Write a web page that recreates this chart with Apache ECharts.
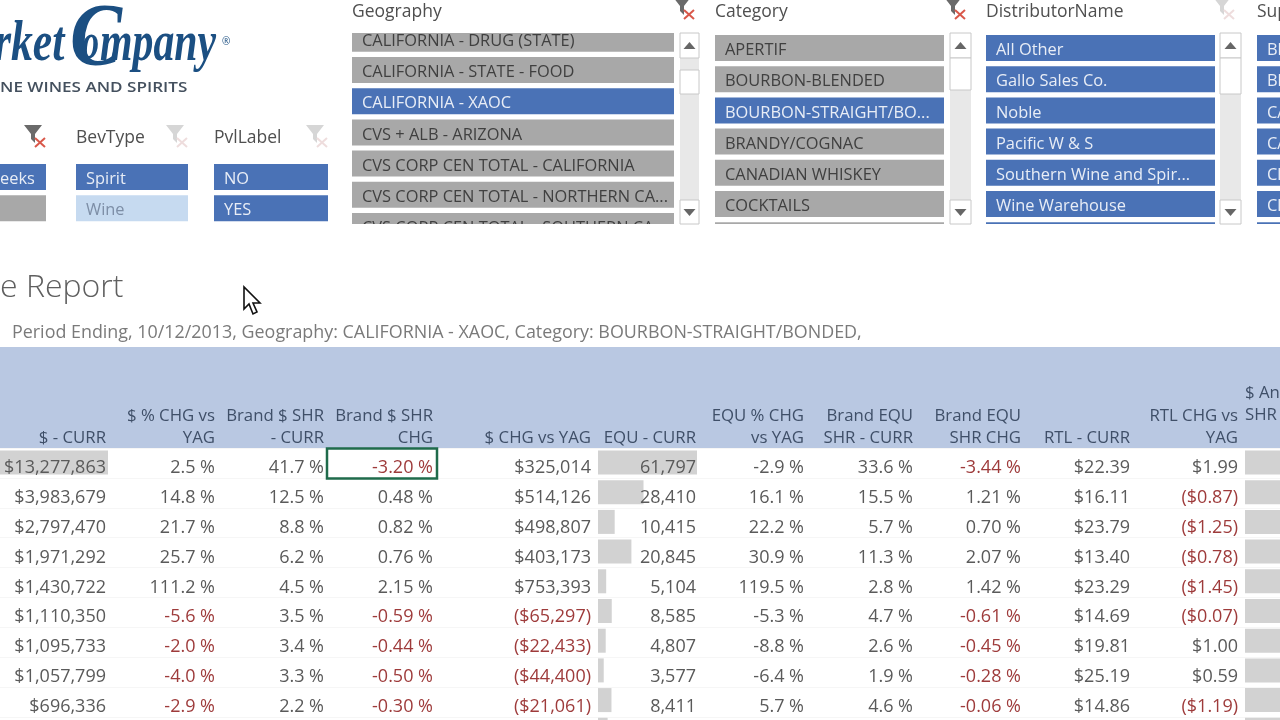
<!DOCTYPE html>
<html>
<head>
<meta charset="utf-8">
<title>Sales Report</title>
<script src="https://cdn.jsdelivr.net/npm/echarts@6/dist/echarts.min.js"></script>
<style>
  html, body { margin: 0; padding: 0; background: #fff; }
  #main { width: 1280px; height: 720px; }
</style>
</head>
<body>
<div id="main"></div>
<script>
// table values
const dollarCurr = [13277863, 3983679, 2797470, 1971292, 1430722, 1110350, 1095733, 1057799, 696336];
const dollarPctChg = [2.5, 14.8, 21.7, 25.7, 111.2, -5.6, -2.0, -4.0, -2.9];
const brandDollarShr = [41.7, 12.5, 8.8, 6.2, 4.5, 3.5, 3.4, 3.3, 2.2];
const brandDollarShrChg = [-3.20, 0.48, 0.82, 0.76, 2.15, -0.59, -0.44, -0.50, -0.30];
const dollarChg = [325014, 514126, 498807, 403173, 753393, -65297, -22433, -44400, -21061];
const equCurr = [61797, 28410, 10415, 20845, 5104, 8585, 4807, 3577, 8411];
const equPctChg = [-2.9, 16.1, 22.2, 30.9, 119.5, -5.3, -8.8, -6.4, 5.7];
const brandEquShr = [33.6, 15.5, 5.7, 11.3, 2.8, 4.7, 2.6, 1.9, 4.6];
const brandEquShrChg = [-3.44, 1.21, 0.70, 2.07, 1.42, -0.61, -0.45, -0.28, -0.06];
const rtlCurr = [22.39, 16.11, 23.79, 13.40, 23.29, 14.69, 19.81, 25.19, 14.86];
const rtlChg = [1.99, -0.87, -1.25, -0.78, -1.45, -0.07, 1.00, 0.59, -1.19];

// data bars: the tenth row only just shows at the bottom edge
const dollarBars = [13277863, 3983679, 2797470, 1971292, 1430722, 1110350, 1095733, 1057799, 696336, 650000];
const equBars = [61797, 28410, 10415, 20845, 5104, 8585, 4807, 3577, 8411, 6000];
const annualShrBars = [92, 88, 90, 85, 87, 84, 86, 83, 85, 80];

// slicers
const geoItems = ["CALIFORNIA - DRUG (STATE)", "CALIFORNIA - STATE - FOOD", "CALIFORNIA - XAOC", "CVS + ALB - ARIZONA", "CVS CORP CEN TOTAL - CALIFORNIA", "CVS CORP CEN TOTAL - NORTHERN CA...", "CVS CORP CEN TOTAL - SOUTHERN CA..."];
const geoState = ["off", "off", "on", "off", "off", "off", "off"];
const categoryItems = ["APERTIF", "BOURBON-BLENDED", "BOURBON-STRAIGHT/BO...", "BRANDY/COGNAC", "CANADIAN WHISKEY", "COCKTAILS", ""];
const categoryState = ["off", "off", "on", "off", "off", "off", "off"];
const distributorItems = ["All Other", "Gallo Sales Co.", "Noble", "Pacific W & S", "Southern Wine and Spir...", "Wine Warehouse", ""];
const distributorState = ["on", "on", "on", "on", "on", "on", "on"];
const supplierItems = ["Bl", "Bl", "CA", "CA", "Cl", "Cl", ""];
const supplierState = ["on", "on", "on", "on", "on", "on", "on"];
const periodItems = ["eeks", ""];
const periodState = ["on", "off"];
const bevTypeItems = ["Spirit", "Wine"];
const bevTypeState = ["on", "dim"];
const pvlItems = ["NO", "YES"];
const pvlState = ["on", "on"];

const FONT = '"Open Sans", "Noto Sans", sans-serif';
const LOGO_FONT = '"Liberation Serif", serif';
const TEXT_GRAY = "#5a5a5a";
const RED = "#9e3b3b";
const HEAD = "#3f4f68";
const LOGO = "#1b4f82";

const ROW_H = 29.875;
const BAR_ROW_H = 29.7;
const TILE_H = 31.2;

const grids = [];
const xAxes = [];
const yAxes = [];
const series = [];

function pct1(v) { return v.toFixed(1) + " %"; }
function pct2(v) { return v.toFixed(2) + " %"; }
function money0(v) {
  const s = "$" + Math.abs(v).toLocaleString("en-US");
  return v < 0 ? "(" + s + ")" : s;
}
function money2(v) {
  const s = "$" + Math.abs(v).toFixed(2);
  return v < 0 ? "(" + s + ")" : s;
}
function num0(v) { return v.toLocaleString("en-US"); }

// one table column: the cells are the labels of its own category axis
function addTextColumn(right, header, values, fmt, redNegative) {
  const i = grids.length;
  grids.push({ outerBoundsMode: "none", left: right, width: 1, top: 453, height: ROW_H * values.length });
  xAxes.push({ type: "value", gridIndex: i, show: false });
  yAxes.push({
    type: "category",
    gridIndex: i,
    inverse: true,
    z: 5,
    data: values.map(fmt),
    name: header,
    nameLocation: "start",
    nameGap: 4,
    nameTextStyle: { align: "right", verticalAlign: "bottom", color: HEAD, fontFamily: FONT, fontSize: 16.8, lineHeight: 22 },
    axisLine: { show: false },
    axisTick: { show: false },
    axisLabel: {
      interval: 0,
      margin: 0,
      fontFamily: FONT,
      fontSize: 18,
      color: function (value, index) {
        return redNegative && values[index] < 0 ? RED : TEXT_GRAY;
      },
    },
  });
}

// grey data bars behind a column
function addDataBars(left, width, max, values) {
  const i = grids.length;
  grids.push({ outerBoundsMode: "none", left: left, width: width, top: 447.65, height: BAR_ROW_H * values.length });
  xAxes.push({ type: "value", gridIndex: i, show: false, min: 0, max: max });
  yAxes.push({ type: "category", gridIndex: i, inverse: true, show: false, data: values.map((v, n) => n) });
  series.push({
    type: "bar",
    xAxisIndex: i,
    yAxisIndex: i,
    barWidth: 24,
    silent: true,
    itemStyle: { color: "#d2d2d2" },
    data: values,
  });
}

const TILE_COLORS = {
  on: { fill: "#4a72b6", text: "#e8edf6" },
  off: { fill: "#a8a8a8", text: "#404040" },
  dim: { fill: "#c6daf0", text: "#7d8ea6" },
};

// a slicer is a bar chart of full-width tiles
function addSlicer(left, width, top, items, states) {
  const i = grids.length;
  grids.push({ outerBoundsMode: "none", left: left, width: width, top: top, height: TILE_H * items.length });
  xAxes.push({ type: "value", gridIndex: i, show: false, min: 0, max: 1 });
  yAxes.push({ type: "category", gridIndex: i, inverse: true, show: false, data: items });
  series.push({
    type: "bar",
    xAxisIndex: i,
    yAxisIndex: i,
    barWidth: 26,
    silent: true,
    label: { show: true, position: "insideLeft", distance: 10, offset: [0, 2.5], formatter: "{b}", fontFamily: FONT, fontSize: 16.4 },
    data: items.map((name, n) => ({
      value: 1,
      name: name,
      itemStyle: { color: TILE_COLORS[states[n]].fill },
      label: { color: TILE_COLORS[states[n]].text },
    })),
  });
}

// faint row lines across the table
grids.push({ outerBoundsMode: "none", left: 0, width: 1280, top: 448, height: ROW_H * 10 });
xAxes.push({ type: "value", gridIndex: 0, show: false });
yAxes.push({
  type: "category",
  gridIndex: 0,
  inverse: true,
  data: equBars.map((v, n) => n),
  axisLine: { show: false },
  axisTick: { show: false },
  axisLabel: { show: false },
  splitLine: { show: true, lineStyle: { color: "#f6f6f6", width: 1 } },
});

addDataBars(-60, 168, 13277863, dollarBars);
addDataBars(598, 99, 61797, equBars);
addDataBars(1245, 100, 100, annualShrBars);

addTextColumn(106, "$ - CURR", dollarCurr, money0, false);
addTextColumn(215, "$ % CHG vs\nYAG", dollarPctChg, pct1, true);
addTextColumn(324, "Brand $ SHR\n- CURR", brandDollarShr, pct1, false);
addTextColumn(433, "Brand $ SHR\nCHG", brandDollarShrChg, pct2, true);
addTextColumn(591, "$ CHG vs YAG", dollarChg, money0, true);
addTextColumn(696, "EQU - CURR", equCurr, num0, false);
addTextColumn(804, "EQU % CHG\nvs YAG", equPctChg, pct1, false);
addTextColumn(913, "Brand EQU\nSHR - CURR", brandEquShr, pct1, false);
addTextColumn(1021, "Brand EQU\nSHR CHG", brandEquShrChg, pct2, true);
addTextColumn(1130, "RTL - CURR", rtlCurr, money2, false);
addTextColumn(1238, "RTL CHG vs\nYAG", rtlChg, money2, true);

addSlicer(352, 322, 23.2, geoItems, geoState);
addSlicer(715, 229, 32.4, categoryItems, categoryState);
addSlicer(986, 229, 32.4, distributorItems, distributorState);
addSlicer(1257, 40, 32.4, supplierItems, supplierState);
addSlicer(-10, 56, 161.4, periodItems, periodState);
addSlicer(76, 112, 161.4, bevTypeItems, bevTypeState);
addSlicer(214, 114, 161.4, pvlItems, pvlState);

function text(x, y, str, size, color, extra) {
  return {
    type: "text",
    z: 12,
    silent: true,
    style: Object.assign({ x: x, y: y, text: str, fontSize: size, fontFamily: FONT, fill: color, verticalAlign: "middle" }, extra || {}),
  };
}

// logo letters are a tall script, so stretch a serif italic to the same shape
function logoText(x, y, str, size, sx, sy) {
  return {
    type: "text",
    z: 12,
    silent: true,
    x: x,
    y: y,
    scaleX: sx,
    scaleY: sy,
    style: { x: 0, y: 0, text: str, fontSize: size, fontFamily: LOGO_FONT, fontStyle: "italic", fontWeight: "bold", fill: LOGO, verticalAlign: "middle" },
  };
}

function rect(x, y, w, h, fill, z, stroke) {
  return {
    type: "rect",
    z: z,
    silent: true,
    shape: { x: x, y: y, width: w, height: h },
    style: { fill: fill, stroke: stroke || null, lineWidth: stroke ? 1 : 0 },
  };
}

function poly(points, fill, z) {
  return { type: "polygon", z: z, silent: true, shape: { points: points }, style: { fill: fill } };
}

function scrollbar(x, w, thumbTop, thumbH) {
  const cx = x + w / 2;
  return [
    rect(x, 33, w, 191, "#e8e8e8", 11),
    rect(x, 33, w, 25, "#fff", 11, "#c8c8c8"),
    rect(x, thumbTop, w, thumbH, "#fff", 11, "#c8c8c8"),
    rect(x, 200, w, 24, "#fff", 11, "#c8c8c8"),
    poly([[cx - 6, 49], [cx + 6, 49], [cx, 42]], "#666", 12),
    poly([[cx - 6, 209], [cx + 6, 209], [cx, 216]], "#666", 12),
  ];
}

function filterIcon(cx, top, active) {
  const c = active ? "#6a6a6a" : "#d6d6d6";
  const red = active ? "#d9584a" : "#eedddd";
  const xc = cx + 7;
  const yc = top + 17;
  const stroke = function (x1, y1, x2, y2) {
    return { type: "line", z: 12, silent: true, shape: { x1: x1, y1: y1, x2: x2, y2: y2 }, style: { stroke: red, lineWidth: 2 } };
  };
  return [
    poly([[cx - 9, top], [cx + 9, top], [cx + 2, top + 9], [cx + 2, top + 18], [cx - 2, top + 14], [cx - 2, top + 9]], c, 12),
    stroke(xc - 5, yc - 4, xc + 5, yc + 5),
    stroke(xc + 5, yc - 4, xc - 5, yc + 5),
  ];
}

const subtitle = text(0, 88, "NE WINES AND SPIRITS", 14, "#44505e", { fontWeight: 600 });
subtitle.scaleX = 1.22;

const graphics = [
  rect(0, 347, 1280, 102, "#b9c8e2", -10),
  // cut off the slicer lists where they scroll
  rect(345, 18, 335, 15, "#fff", 10),
  rect(345, 224, 935, 28, "#fff", 10),
  // logo
  logoText(-6, 45, "rket", 38, 1.15, 1.5),
  logoText(70, 41, "C", 78, 1, 1.15),
  logoText(82, 45, "o", 34, 1, 1.5),
  logoText(100, 45, "mpany", 38, 1.1, 1.5),
  text(222, 42, "®", 10, LOGO),
  subtitle,
  // slicer captions
  text(352, 12, "Geography", 17.5, "#4f4f4f"),
  text(715, 12, "Category", 17.5, "#4f4f4f"),
  text(986, 12, "DistributorName", 17.5, "#4f4f4f"),
  text(1257, 12, "Sup", 17.5, "#4f4f4f"),
  text(76, 138, "BevType", 17.5, "#4f4f4f"),
  text(214, 138, "PvlLabel", 17.5, "#4f4f4f"),
  // report heading
  text(0, 288, "e Report", 32, "#5f5f5f", { fontWeight: 300 }),
  text(12, 333, "Period Ending, 10/12/2013, Geography: CALIFORNIA - XAOC, Category: BOURBON-STRAIGHT/BONDED,", 17.9, "#7a7a7a"),
  // last column header, cut by the window
  text(1245, 393, "$ An", 16.8, HEAD),
  text(1245, 415, "SHR", 16.8, HEAD),
  // selected cell
  { type: "rect", z: 12, silent: true, shape: { x: 327, y: 448.5, width: 110, height: 30 }, style: { fill: null, stroke: "#1f6b4b", lineWidth: 2.5 } },
  // mouse pointer
  {
    type: "polygon",
    z: 13,
    silent: true,
    shape: { points: [[244, 287], [244, 309], [249, 304], [253, 314], [257, 312], [253, 303], [260, 303]] },
    style: { fill: "#fff", stroke: "#111", lineWidth: 1.6 },
  },
].concat(
  scrollbar(680, 19, 70, 24),
  scrollbar(950, 21, 58, 32),
  scrollbar(1220, 21, 58, 36),
  filterIcon(682, -3, true),
  filterIcon(953, -3, true),
  filterIcon(1222, -3, false),
  filterIcon(33, 125, true),
  filterIcon(175, 125, false),
  filterIcon(315, 125, false)
);

const chart = echarts.init(document.getElementById("main"));
chart.setOption({
  animation: false,
  backgroundColor: "#fff",
  tooltip: { show: false },
  grid: grids,
  xAxis: xAxes,
  yAxis: yAxes,
  series: series,
  graphic: graphics,
});
</script>
</body>
</html>
